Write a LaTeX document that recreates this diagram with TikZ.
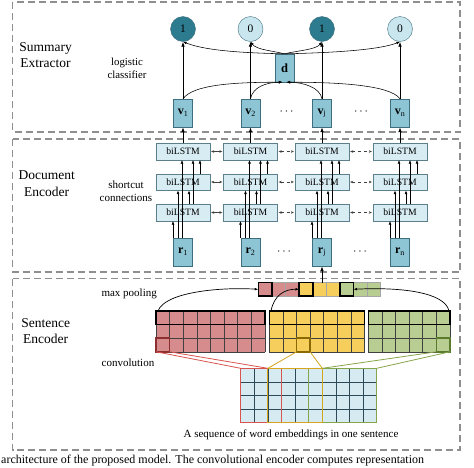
\documentclass[tikz,border=0pt]{standalone}
\usepackage{fontspec}
\setmainfont{Liberation Serif}
\usetikzlibrary{arrows.meta}
\definecolor{framegray}{HTML}{8F8F8F}
\definecolor{darkteal}{HTML}{2D7B8E}
\definecolor{lightteal}{HTML}{C9E6EF}
\definecolor{boxblue}{HTML}{8DC5D5}
\definecolor{boxedge}{HTML}{3E6E7E}
\definecolor{lstmfill}{HTML}{D8ECF3}
\definecolor{lstmedge}{HTML}{5B7F8B}
\definecolor{redfill}{HTML}{D68C8C}
\definecolor{yelfill}{HTML}{F6CE5C}
\definecolor{grnfill}{HTML}{B8CD92}
\definecolor{embfill}{HTML}{D6EAF2}
\definecolor{embline}{HTML}{2E4A57}
\definecolor{redline}{HTML}{D9534F}
\definecolor{yelline}{HTML}{D6A51E}
\definecolor{grnline}{HTML}{86A54A}
\definecolor{redhi}{HTML}{8E2F2F}
\definecolor{yelhi}{HTML}{8A6A00}
\definecolor{grnhi}{HTML}{5A7A2C}
\begin{document}
\begin{tikzpicture}[x=1pt,y=-1pt,
  frame/.style={draw=framegray, line width=1.2pt, dash pattern=on 7pt off 4pt},
  lstm/.style={draw=lstmedge, fill=lstmfill, minimum width=54pt, minimum height=16.5pt, inner sep=0pt, font=\fontsize{9.7}{10}\selectfont},
  vecbox/.style={draw=boxedge, fill=boxblue, minimum width=19pt, minimum height=28pt, inner sep=0pt, font=\fontsize{12}{12}\selectfont},
  circ/.style={circle, draw=boxedge, minimum size=25pt, inner sep=0pt, font=\fontsize{11.5}{12}\selectfont},
  arr/.style={-{Latex[length=5pt,width=3.6pt]}, line width=0.9pt},
  thinarr/.style={-{Latex[length=3.6pt,width=2.8pt]}, line width=0.55pt},
  harr/.style={{Stealth[length=3pt,width=2.6pt]}-{Stealth[length=3pt,width=2.6pt]}, line width=0.5pt, draw=black!75, shorten <=1pt, shorten >=1pt},
  lbl/.style={font=\fontsize{13.5}{16.5}\selectfont, align=center},
  small/.style={font=\fontsize{11}{13.5}\selectfont, align=center},
  cell/.style={draw=black!75, line width=0.5pt},
  ellip/.style={font=\fontsize{12}{12}\selectfont\bfseries}
]
\useasboundingbox (0,0) rectangle (474,467);

% frames
\draw[frame] (12.5,2) rectangle (460,132);
\draw[frame] (12.5,139) rectangle (460,272);
\draw[frame] (12.5,278.5) rectangle (460,450);

% section labels
\node[lbl] (lsum) at (45.5,55) {Summary\\Extractor};
\node[lbl] (ldoc) at (46.7,183.5) {Document\\Encoder};
\node[lbl] (lsen) at (45.7,331) {Sentence\\Encoder};
\node[small, font=\fontsize{10.8}{12.7}\selectfont] (llog) at (127,68.5) {logistic\\classifier};
\node[small] (lsc) at (126,191.3) {shortcut\\connections};
\node[small] (lmax) at (129.2,294) {max pooling};
\node[small] (lconv) at (128,363) {convolution};
\node[small] (lseq) at (291,435) {A sequence of word embeddings in one sentence};

% columns
\foreach \i/\cx/\s/\c/\col in {1/183/1/1/darkteal, 2/250.5/2/0/lightteal, 3/322/j/1/darkteal, 4/400/n/0/lightteal} {
  \node[lstm] (La\i) at (\cx,151.5) {biLSTM};
  \node[lstm] (Lb\i) at (\cx,182) {biLSTM};
  \node[lstm] (Lc\i) at (\cx,212.5) {biLSTM};
  \node[vecbox] (r\i) at (\cx,252) {{\bfseries r}\textsubscript{\s}};
  \node[vecbox] (v\i) at (\cx,113) {{\bfseries v}\textsubscript{\s}};
  \node[circ, fill=\col] (o\i) at (\cx,29) {\c};
  % shortcut connections
  \draw[thinarr] ([xshift=-10pt]r\i.north) -- ([xshift=-10pt]Lc\i.south);
  \draw[thinarr] ([xshift=-5pt]r\i.north) -- ([xshift=-5pt]Lb\i.south);
  \draw[thinarr] ([xshift=-1pt]r\i.north) -- ([xshift=-1pt]La\i.south);
  \draw[thinarr] ([xshift=6pt]Lc\i.north) -- ([xshift=6pt]Lb\i.south);
  \draw[thinarr] ([xshift=10pt]Lc\i.north) -- ([xshift=10pt]La\i.south);
  \draw[thinarr] ([xshift=17pt]Lb\i.north) -- ([xshift=17pt]La\i.south);
  % upward arrows
  \draw[arr] (La\i.north) -- (v\i.south);
  \draw[arr] (v\i.north) -- (o\i.south);
}

% horizontal bi-directional links
\foreach \row in {a,b,c} {
  \draw[harr] (L\row1.east) -- (L\row2.west);
  \draw[harr, dashed] (L\row2.east) -- (L\row3.west);
  \draw[harr, dashed] (L\row3.east) -- (L\row4.west);
}

% ellipses
\node[ellip] (dv1) at (286.5,112) {$\cdots$};
\node[ellip] (dv2) at (361,112) {$\cdots$};
\node[ellip] (dr1) at (284,252) {$\cdots$};
\node[ellip] (dr2) at (360,252) {$\cdots$};

% document vector
\node[vecbox, font=\fontsize{12.5}{12}\selectfont\bfseries] (d) at (284.5,68) {d};
\draw[thinarr] (d.north) .. controls +(-50,-1) and +(20,8) .. (o1.south);
\draw[thinarr] (d.north) .. controls +(-12,-3) and +(6,8) .. (o2.south);
\draw[thinarr] (d.north) .. controls +(12,-3) and +(-6,8) .. (o3.south);
\draw[thinarr] (d.north) .. controls +(50,-1) and +(-20,8) .. (o4.south);
\draw[thinarr] (v1.north) .. controls +(10,-14) and +(-50,0) .. ([xshift=-2pt]d.south);
\draw[thinarr] (v2.north) .. controls +(2,-12) and +(-15,0) .. ([xshift=-2pt]d.south);
\draw[thinarr] (v3.north) .. controls +(-2,-12) and +(15,0) .. ([xshift=2pt]d.south);
\draw[thinarr] (v4.north) .. controls +(-10,-14) and +(50,0) .. ([xshift=2pt]d.south);

% feature maps
\foreach \xa/\n/\col in {156/8/redfill, 269.3/7/yelfill, 368.3/6/grnfill} {
  \fill[fill=\col] (\xa,311) rectangle ++({13.6*\n},40.8);
  \foreach \k in {0,...,\n} \draw[cell] ({\xa+13.6*\k},311) -- ++(0,40.8);
  \foreach \k in {1,2,3} \draw[cell] (\xa,{311+13.6*\k}) -- ++({13.6*\n},0);
  \draw[line width=1.6pt] (\xa,311) rectangle ++({13.6*\n},13.6);
}
\draw[draw=redhi, line width=1.5pt] (156,338.2) rectangle ++(13.6,13.6);
\draw[draw=yelhi, line width=1.5pt] (296.5,338.2) rectangle ++(13.6,13.6);
\draw[draw=grnhi, line width=1.5pt] (436.3,338.2) rectangle ++(13.6,13.6);

% pooled vector
\foreach \k/\col in {0/redfill,1/redfill,2/redfill,3/yelfill,4/yelfill,5/yelfill,6/grnfill,7/grnfill,8/grnfill} {
  \draw[draw=black!35, line width=0.5pt, fill=\col] ({258.3+13.6*\k},282.5) rectangle ++(13.6,13.6);
}
\foreach \k in {0,3,6} \draw[line width=1.6pt] ({258.3+13.6*\k},282.5) rectangle ++(13.6,13.6);
\coordinate (pooltop) at (322,282.5);
\draw[arr] (pooltop) -- (r3.south);
\coordinate (redtl) at (158,311);
\coordinate (yeltl) at (271,311);
\coordinate (grntr) at (449,311);
\coordinate (pr) at (258.3,289.3);
\coordinate (py) at (299.1,289.3);
\coordinate (pg) at (353.5,289.3);
\draw[thinarr, line width=0.7pt] (redtl) .. controls (165,292) and (220,287) .. (pr);
\draw[thinarr, line width=0.7pt] (yeltl) .. controls (274,295) and (285,289) .. (py);
\draw[thinarr, line width=0.7pt] (grntr) .. controls (445,292) and (400,287) .. (pg);

% word embeddings
\fill[embfill] (240.7,368.3) rectangle ++(136,54.4);
\foreach \k in {0,...,10} \draw[draw=embline, line width=0.6pt] ({240.7+13.6*\k},368.3) -- ++(0,54.4);
\foreach \k in {0,...,4} \draw[draw=embline, line width=0.6pt] (240.7,{368.3+13.6*\k}) -- ++(136,0);
\draw[draw=redline, line width=1.1pt] (240.7,368.3) rectangle (281.5,422.7);
\draw[draw=grnline, line width=1.1pt] (308.7,368.3) rectangle (376.7,422.7);
\draw[draw=yelline, line width=1.1pt] (267.9,368.3) rectangle (322.3,422.7);
\draw[draw=redline, line width=0.8pt] (156,351.8) -- (240.7,368.3);
\draw[draw=redline, line width=0.8pt] (169.6,351.8) -- (267.9,368.3);
\draw[draw=yelline, line width=0.8pt] (296.5,351.8) -- (267.9,368.3);
\draw[draw=yelline, line width=0.8pt] (310.1,351.8) -- (322.3,368.3);
\draw[draw=grnline, line width=0.8pt] (436.3,351.8) -- (322.3,368.3);
\draw[draw=grnline, line width=0.8pt] (449.9,351.8) -- (376.7,368.3);

% caption (cut off in the reference; kept fully visible here)
\node[anchor=base west, inner sep=0pt, font=\fontsize{12}{14}\selectfont] (cap) at (1,463.5) {architecture of the proposed model. The convolutional encoder computes representation};
\end{tikzpicture}
\end{document}
